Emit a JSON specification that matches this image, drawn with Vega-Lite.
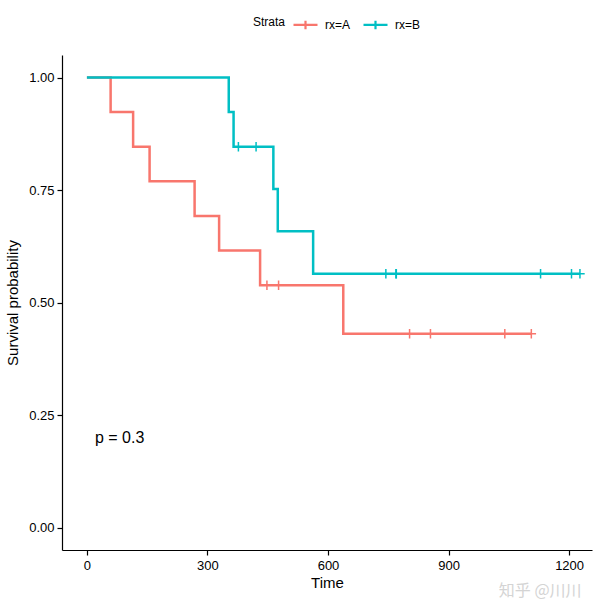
{
  "$schema": "https://vega.github.io/schema/vega-lite/v6.json",
  "autosize": "none",
  "width": 530,
  "height": 495,
  "padding": {"left": 62, "top": 55, "right": 8, "bottom": 50},
  "background": "white",
  "config": {
    "view": {"stroke": null},
    "font": "Liberation Sans",
    "axis": {
      "grid": false,
      "domainColor": "black",
      "domainWidth": 1.2,
      "tickColor": "black",
      "tickSize": 5,
      "tickWidth": 1.2,
      "labelFont": "Liberation Sans",
      "labelFontSize": 13,
      "labelColor": "black",
      "titleFont": "Liberation Sans",
      "titleFontSize": 15,
      "titleFontWeight": "normal",
      "titleColor": "black"
    }
  },
  "data": {
    "values": [
      {"strata": "rx=A", "kind": "step", "time": 0, "surv": 1},
      {"strata": "rx=A", "kind": "step", "time": 59, "surv": 0.9231},
      {"strata": "rx=A", "kind": "step", "time": 115, "surv": 0.8462},
      {"strata": "rx=A", "kind": "step", "time": 156, "surv": 0.7692},
      {"strata": "rx=A", "kind": "step", "time": 268, "surv": 0.6923},
      {"strata": "rx=A", "kind": "step", "time": 329, "surv": 0.6154},
      {"strata": "rx=A", "kind": "step", "time": 431, "surv": 0.5385},
      {"strata": "rx=A", "kind": "step", "time": 638, "surv": 0.4308},
      {"strata": "rx=A", "kind": "step", "time": 1106, "surv": 0.4308},
      {"strata": "rx=B", "kind": "step", "time": 0, "surv": 1},
      {"strata": "rx=B", "kind": "step", "time": 353, "surv": 0.9231},
      {"strata": "rx=B", "kind": "step", "time": 365, "surv": 0.8462},
      {"strata": "rx=B", "kind": "step", "time": 464, "surv": 0.7521},
      {"strata": "rx=B", "kind": "step", "time": 475, "surv": 0.6581},
      {"strata": "rx=B", "kind": "step", "time": 563, "surv": 0.5641},
      {"strata": "rx=B", "kind": "step", "time": 1227, "surv": 0.5641},
      {"strata": "rx=A", "kind": "censor", "time": 448, "surv": 0.5385},
      {"strata": "rx=A", "kind": "censor", "time": 477, "surv": 0.5385},
      {"strata": "rx=A", "kind": "censor", "time": 803, "surv": 0.4308},
      {"strata": "rx=A", "kind": "censor", "time": 855, "surv": 0.4308},
      {"strata": "rx=A", "kind": "censor", "time": 1040, "surv": 0.4308},
      {"strata": "rx=A", "kind": "censor", "time": 1106, "surv": 0.4308},
      {"strata": "rx=B", "kind": "censor", "time": 377, "surv": 0.8462},
      {"strata": "rx=B", "kind": "censor", "time": 421, "surv": 0.8462},
      {"strata": "rx=B", "kind": "censor", "time": 744, "surv": 0.5641},
      {"strata": "rx=B", "kind": "censor", "time": 769, "surv": 0.5641},
      {"strata": "rx=B", "kind": "censor", "time": 770, "surv": 0.5641},
      {"strata": "rx=B", "kind": "censor", "time": 1129, "surv": 0.5641},
      {"strata": "rx=B", "kind": "censor", "time": 1206, "surv": 0.5641},
      {"strata": "rx=B", "kind": "censor", "time": 1227, "surv": 0.5641}
    ]
  },
  "layer": [
    {
      "transform": [{"filter": "datum.kind === 'step'"}],
      "mark": {"type": "line", "interpolate": "step-after", "strokeWidth": 2.5},
      "encoding": {
        "x": {
          "field": "time", "type": "quantitative",
          "scale": {"domain": [-62, 1257], "nice": false, "zero": false},
          "axis": {"values": [0, 300, 600, 900, 1200], "format": "d", "title": "Time", "titlePadding": 3, "labelPadding": 4}
        },
        "y": {
          "field": "surv", "type": "quantitative",
          "scale": {"domain": [-0.05, 1.05], "nice": false, "zero": false},
          "axis": {"values": [0, 0.25, 0.5, 0.75, 1], "format": ".2f", "title": "Survival probability", "titlePadding": 8, "labelPadding": 3}
        },
        "color": {
          "field": "strata", "type": "nominal",
          "scale": {"domain": ["rx=A", "rx=B"], "range": ["#F8766D", "#00BFC4"]},
          "legend": {
            "title": "Strata",
            "orient": "none",
            "direction": "horizontal",
            "legendX": 191,
            "legendY": -44,
            "titleOrient": "left",
            "titleFontSize": 12,
            "titleFontWeight": "normal",
            "titleColor": "black",
            "titlePadding": 6,
            "labelFontSize": 12,
            "labelColor": "black",
            "symbolType": "M-1,0L1,0M0,-0.35L0,0.35",
            "symbolSize": 576,
            "symbolStrokeWidth": 2.2,
            "symbolFillColor": "transparent",
            "columnPadding": 8,
            "labelOffset": 6
          }
        },
        "detail": {"field": "strata"}
      }
    },
    {
      "transform": [{"filter": "datum.kind === 'censor'"}],
      "mark": {"type": "point", "shape": "M0,-1L0,1M-1,0L1,0", "filled": false, "size": 90, "strokeWidth": 1.5, "opacity": 1},
      "encoding": {
        "x": {"field": "time", "type": "quantitative"},
        "y": {"field": "surv", "type": "quantitative"},
        "color": {"field": "strata", "type": "nominal", "legend": null}
      }
    },
    {
      "data": {"values": [{"time": 20, "surv": 0.2, "label": "p = 0.3"}]},
      "mark": {"type": "text", "align": "left", "baseline": "middle", "fontSize": 16, "font": "Liberation Sans", "color": "black"},
      "encoding": {
        "x": {"field": "time", "type": "quantitative"},
        "y": {"field": "surv", "type": "quantitative"},
        "text": {"field": "label"}
      }
    },
    {
      "data": {"values": [{"time": 1128, "surv": -0.14, "label": "知乎 @川川"}]},
      "mark": {"type": "text", "align": "center", "baseline": "middle", "fontSize": 16, "font": "Noto Sans CJK SC", "color": "#d4d4d4", "clip": false},
      "encoding": {
        "x": {"field": "time", "type": "quantitative"},
        "y": {"field": "surv", "type": "quantitative"},
        "text": {"field": "label"}
      }
    }
  ]
}
